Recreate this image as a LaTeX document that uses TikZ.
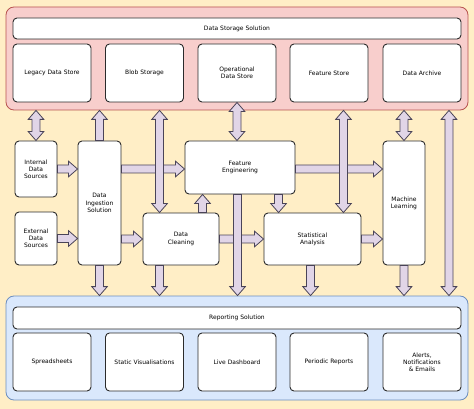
\documentclass[tikz,border=0pt]{standalone}
\usepackage{fontspec}
\setmainfont{DejaVu Sans}
\usetikzlibrary{calc}
\definecolor{bgc}{HTML}{FFEEC6}
\definecolor{pinkf}{HTML}{F8CECC}
\definecolor{pinks}{HTML}{B85450}
\definecolor{bluef}{HTML}{DAE8FC}
\definecolor{blues}{HTML}{6C8EBF}
\definecolor{arrf}{HTML}{E1D5E7}
\definecolor{arrs}{HTML}{4A4458}
\definecolor{boxs}{HTML}{2B2B2B}
\newcommand\shw{4pt}
\newcommand\hhw{7.8pt}
\newcommand\hlen{9pt}
\newcommand\myarrow[2]{%
  \coordinate (tmpb) at ($(#2)!\hlen!(#1)$);
  \filldraw[blk] ($(#1)!\shw!90:(#2)$) -- ($(tmpb)!\shw!90:(#2)$) -- ($(tmpb)!\hhw!90:(#2)$) -- (#2)
    -- ($(tmpb)!\hhw!-90:(#2)$) -- ($(tmpb)!\shw!-90:(#2)$) -- ($(#1)!\shw!-90:(#2)$) -- cycle;}
\newcommand\mydarrow[2]{%
  \coordinate (tmpa) at ($(#1)!\hlen!(#2)$);
  \coordinate (tmpb) at ($(#2)!\hlen!(#1)$);
  \filldraw[blk] (#1) -- ($(tmpa)!\hhw!90:(#2)$) -- ($(tmpa)!\shw!90:(#2)$) -- ($(tmpb)!\shw!90:(#2)$) -- ($(tmpb)!\hhw!90:(#2)$) -- (#2)
    -- ($(tmpb)!\hhw!-90:(#2)$) -- ($(tmpb)!\shw!-90:(#2)$) -- ($(tmpa)!\shw!-90:(#2)$) -- ($(tmpa)!\hhw!-90:(#2)$) -- cycle;}
\begin{document}
\begin{tikzpicture}[x=1pt,y=-1pt,
  font=\fontsize{6}{7.2}\selectfont,
  blk/.style={fill=arrf,draw=arrs,line width=0.8pt,line join=miter},
  wbox/.style={draw=boxs,fill=white,line width=0.9pt,rounded corners=4pt,inner sep=0pt,align=center},
  pcont/.style={draw=pinks,fill=pinkf,line width=0.8pt,rounded corners=8pt,inner sep=0pt},
  bcont/.style={draw=blues,fill=bluef,line width=0.8pt,rounded corners=8pt,inner sep=0pt}]
\useasboundingbox (0,0) rectangle (474,409);
\fill[bgc] (0,0) rectangle (474,409);
% containers
\node[pcont,minimum width=462pt,minimum height=103pt] (ds) at (237,58.5) {};
\node[bcont,minimum width=462pt,minimum height=104pt] (rep) at (237,348) {};
\node[wbox,minimum width=448pt,minimum height=21pt] (dsh) at (237,28.5) {Data Storage Solution};
\node[wbox,minimum width=448pt,minimum height=22pt] (reph) at (237,318) {Reporting Solution};
% storage
\foreach \n/\x/\t in {leg/52/{Legacy Data Store},blob/144.5/{Blob Storage},ops/237/{Operational\\Data Store},fs/329/{Feature Store},arch/422/{Data Archive}}
  \node[wbox,minimum width=78pt,minimum height=58pt] (\n) at (\x,73) {\t};
% reporting
\foreach \n/\x/\t in {sp/52/{Spreadsheets},sv/144.5/{Static Visualisations},ld/237/{Live Dashboard},pr/329/{Periodic Reports},al/422/{Alerts,\\Notifications\\\& Emails}}
  \node[wbox,minimum width=78pt,minimum height=58pt] (\n) at (\x,362) {\t};
% middle
\node[wbox,minimum width=42pt,minimum height=56pt] (int) at (36,169) {Internal\\Data\\Sources};
\node[wbox,minimum width=42pt,minimum height=53pt] (ext) at (36,238.5) {External\\Data\\Sources};
\node[wbox,minimum width=43pt,minimum height=124pt] (ing) at (99.5,203) {Data\\Ingestion\\Solution};
\node[wbox,minimum width=76pt,minimum height=52pt] (clean) at (181,239) {Data\\Cleaning};
\node[wbox,minimum width=110pt,minimum height=53pt] (fe) at (240,167.5) {Feature\\Engineering};
\node[wbox,minimum width=97pt,minimum height=52pt] (sa) at (312.5,239) {Statistical\\Analysis};
\node[wbox,minimum width=42pt,minimum height=124pt] (ml) at (404,203) {Machine\\Learning};
% helper coordinates
\coordinate (c1) at ($(clean.north west)+(17,0)$);
\coordinate (c2) at ($(sa.north east)+(-18,0)$);
\coordinate (c3) at (449,200);
\coordinate (c4) at ($(clean.north west)+(60,0)$);
\coordinate (c5) at ($(sa.north west)+(15,0)$);
\coordinate (c6) at ($(clean.south west)+(17,0)$);
\coordinate (c7) at ($(fe.south west)+(53,0)$);
\coordinate (c8) at ($(sa.south west)+(47,0)$);
% horizontal arrows
\myarrow{int.east}{int.east -| ing.west}
\myarrow{ext.east}{ext.east -| ing.west}
\myarrow{ing.east |- int.east}{int.east -| fe.west}
\myarrow{ing.east |- clean.west}{clean.west}
\myarrow{clean.east}{sa.west}
\myarrow{fe.east |- int.east}{int.east -| ml.west}
\myarrow{sa.east}{sa.east -| ml.west}
% vertical arrows
\mydarrow{int.north}{int.north |- ds.south}
\myarrow{ing.north}{ing.north |- ds.south}
\mydarrow{c1 |- ds.south}{c1}
\mydarrow{ops.south}{ops.south |- fe.north}
\mydarrow{c2 |- ds.south}{c2}
\mydarrow{ml.north |- ds.south}{ml.north}
\mydarrow{c3 |- ds.south}{c3 |- rep.north}
\myarrow{c4}{c4 |- fe.south}
\myarrow{c5 |- fe.south}{c5}
\myarrow{ing.south}{ing.south |- rep.north}
\myarrow{c6}{c6 |- rep.north}
\myarrow{c7}{c7 |- rep.north}
\myarrow{c8}{c8 |- rep.north}
\myarrow{ml.south}{ml.south |- rep.north}
\end{tikzpicture}
\end{document}
